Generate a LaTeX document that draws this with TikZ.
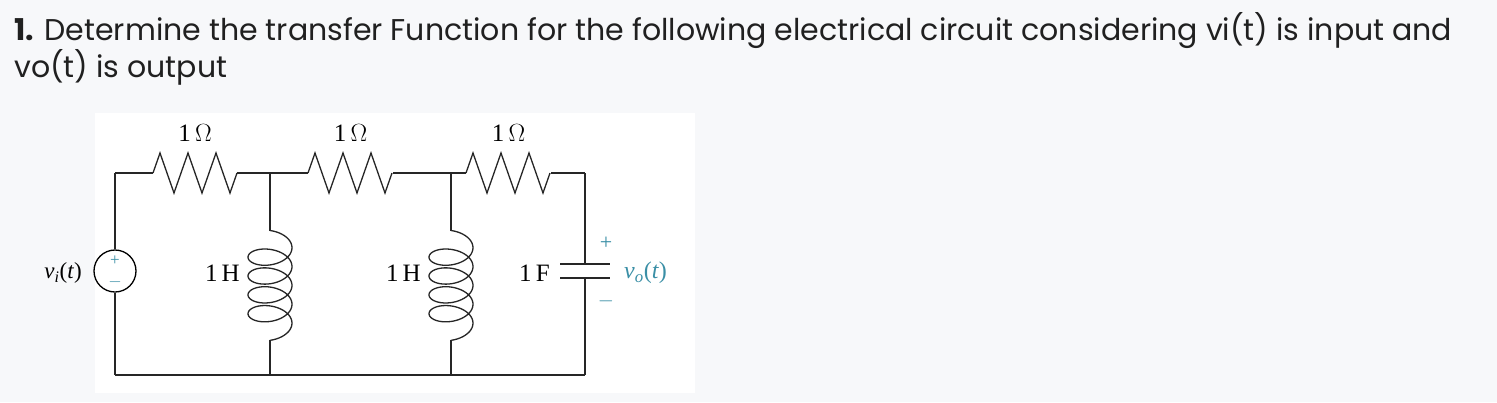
\documentclass[tikz,border=0pt]{standalone}
\usepackage{fontspec}
\setmainfont{Liberation Serif}
\newfontfamily\titlefont{Poppins}
\definecolor{bg}{HTML}{F7F8FA}
\definecolor{teal}{HTML}{3A8FA6}
\definecolor{ttl}{HTML}{202020}
\begin{document}
\begin{tikzpicture}[x=1pt,y=-1pt,
  wire/.style={line width=1.3pt,black!85},
  lbl/.style={font=\fontsize{25}{25}\selectfont,inner sep=0pt},
  tl/.style={font=\fontsize{22}{22}\selectfont\color{teal},inner sep=0pt},
  sgn/.style={font=\fontsize{17}{17}\selectfont\color{teal},inner sep=0pt}]
\fill[bg] (0,0) rectangle (1497,402);
\useasboundingbox (0,0) rectangle (1497,402);
\fill[white] (95,113) rectangle (695,393);
\node[anchor=base west,inner sep=0pt,text=ttl,font=\titlefont\fontsize{30}{30}\selectfont] (t1) at (14,40) {\textbf{1.} Determine the transfer Function for the following electrical circuit considering vi(t) is input and};
\node[anchor=base west,inner sep=0pt,text=ttl,font=\titlefont\fontsize{30}{30}\selectfont] (t2) at (14,77) {vo(t) is output};
% coordinates
\coordinate (tl) at (115,173);
\coordinate (tr) at (585,173);
\coordinate (bl) at (115,375);
\coordinate (br) at (585,375);
% source
\node[circle,draw,line width=1.3pt,minimum size=42pt,inner sep=0pt] (src) at (115,271) {};
\node[sgn] (sp) at (115,261) {+};
\node[sgn] (sm) at (115,282.5) {$-$};
\draw[wire] (tl) -- (src.north);
\draw[wire] (src.south) -- (bl);
% resistors
\foreach \a/\b [count=\i] in {153/237,308/393,466/551}{
  \draw[wire,line join=miter] (\a,173)
   -- ++(7,-20) -- ++(14,40) -- ++(14,-40) -- ++(14,40) -- ++(14,-40) -- ++(14,40) -- ++(7,-20);
  \node[lbl] (r\i) at ({(\a+\b)/2},133) {1\,$\Omega$};
}
\draw[wire] (tl) -- (153,173);
\draw[wire] (237,173) -- (308,173);
\draw[wire] (393,173) -- (466,173);
\draw[wire] (551,173) -- (tr);
% inductors
\foreach \x/\n in {270/1,451/2}{
  \draw[wire] (\x,173) -- (\x,230.5);
  \draw[wire,smooth,samples=200,domain=0:9*pi,variable=\t]
     plot ({\x+22*sin(\t r)},{243+3*\t-12.5*cos(\t r)});
  \draw[wire] (\x,{243+27*pi+12.5}) -- (\x,375);
  \node[lbl,anchor=east] (L\n) at (\x-30,273) {1\,H};
}
% capacitor
\draw[wire] (tr) -- (585,264);
\draw[wire] (585,278) -- (br);
\draw[line width=1.8pt,black!85] (560,264) -- (610,264);
\draw[line width=1.8pt,black!85] (560,278) -- (610,278);
\node[lbl,anchor=east] (C) at (550,273) {1\,F};
\node[tl] (cp) at (606,243) {+};
\node[tl] (cm) at (606,301) {$-$};
\node[tl,anchor=west,font=\fontsize{24}{24}\selectfont\color{teal}] (vo) at (624,273) {\textit{v}\textsubscript{\textit{o}}(\textit{t})};
\node[lbl,anchor=east,font=\fontsize{23}{23}\selectfont] (vi) at (82,273) {\textit{v}\textsubscript{\textit{i}}(\textit{t})};
\draw[wire] (bl) -- (br);
\end{tikzpicture}
\end{document}
